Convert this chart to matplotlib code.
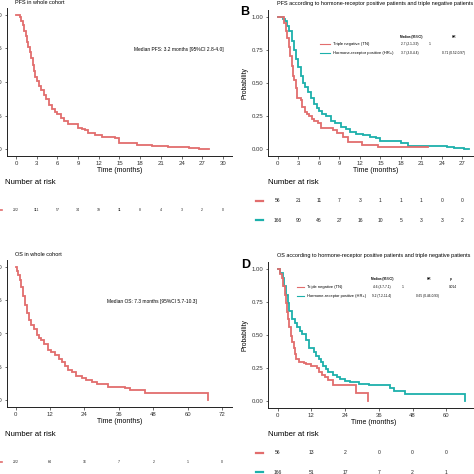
import matplotlib
matplotlib.use('Agg')
import matplotlib.pyplot as plt
from matplotlib.lines import Line2D
from matplotlib.transforms import blended_transform_factory

plt.rcParams['font.family'] = ['Liberation Sans', 'DejaVu Sans']

RED = '#E26D6D'
TEAL = '#1CB0AB'
W = 474.0

# ---- data (KM step points) ----
pfs_all_t = [0, 0.6, 0.8, 1.0, 1.2, 1.4, 1.6, 1.8, 2.0, 2.2, 2.4, 2.6, 2.8, 3.0, 3.3,
             3.6, 4.0, 4.4, 4.8, 5.2, 5.6, 6.0, 6.5, 7.0, 7.5, 8.0, 9.0, 9.5, 10.0,
             10.5, 11.5, 12.5, 14.3, 15.0, 17.5, 19.7, 22.0, 25.0, 26.5, 28.0]
pfs_all_s = [1.0, 0.98, 0.95, 0.92, 0.88, 0.84, 0.80, 0.76, 0.72, 0.68, 0.63, 0.58, 0.54,
             0.51, 0.47, 0.44, 0.40, 0.37, 0.33, 0.30, 0.28, 0.26, 0.235, 0.21, 0.19,
             0.185, 0.16, 0.15, 0.14, 0.12, 0.105, 0.093, 0.085, 0.05, 0.035, 0.022,
             0.017, 0.01, 0.004, 0.0]

pfs_tn_t = [0, 0.9, 1.2, 1.4, 1.6, 1.8, 2.0, 2.2, 2.4, 2.6, 2.8, 3.4, 3.6, 3.9, 4.3,
            4.6, 5.0, 5.3, 5.8, 6.3, 8.1, 8.6, 9.6, 10.3, 12.3, 14.6, 22.0]
pfs_tn_s = [1.0, 0.95, 0.89, 0.84, 0.77, 0.70, 0.63, 0.55, 0.52, 0.46, 0.39, 0.375, 0.32,
            0.28, 0.27, 0.25, 0.23, 0.21, 0.20, 0.16, 0.145, 0.125, 0.09, 0.055, 0.036,
            0.018, 0.018]

pfs_hr_t = [0, 0.8, 1.0, 1.3, 1.7, 2.0, 2.4, 2.7, 3.0, 3.4, 3.7, 4.0, 4.4, 4.8, 5.3, 5.7,
            6.0, 6.5, 7.0, 7.7, 8.3, 9.2, 10.0, 10.6, 11.5, 12.5, 13.5, 14.4, 15.0, 18.0,
            19.0, 24.7, 25.7, 27.2, 28.0]
pfs_hr_s = [1.0, 0.98, 0.965, 0.93, 0.89, 0.82, 0.75, 0.68, 0.62, 0.55, 0.50, 0.47, 0.43,
            0.39, 0.34, 0.31, 0.29, 0.27, 0.25, 0.21, 0.20, 0.17, 0.15, 0.13, 0.115, 0.105,
            0.095, 0.083, 0.06, 0.045, 0.027, 0.018, 0.009, 0.0, 0.0]

os_all_t = [0, 0.5, 1, 1.5, 2, 2.7, 3.3, 3.8, 4.5, 5.5, 6.3, 7.3, 8.2, 9.0, 10.0, 11.3,
            12.5, 13.7, 15.0, 16.0, 17.2, 18.3, 19.5, 21.2, 23.0, 24.7, 26.5, 28.2, 32.2,
            38.0, 39.8, 45.0, 67.0]
os_all_s = [1.0, 0.97, 0.94, 0.90, 0.85, 0.78, 0.71, 0.65, 0.60, 0.56, 0.53, 0.49, 0.47,
            0.45, 0.42, 0.38, 0.36, 0.34, 0.31, 0.29, 0.26, 0.23, 0.21, 0.185, 0.17, 0.155,
            0.14, 0.12, 0.097, 0.09, 0.08, 0.055, 0.0]

os_tn_t = [0, 1.0, 1.5, 2.0, 2.5, 3.0, 3.4, 3.8, 4.2, 4.7, 5.2, 5.9, 6.3, 6.7, 7.7, 9.4,
           10.0, 12.0, 14.0, 14.8, 15.7, 16.8, 18.0, 19.8, 27.9, 32.3]
os_tn_s = [1.0, 0.96, 0.93, 0.87, 0.80, 0.74, 0.675, 0.62, 0.56, 0.49, 0.45, 0.40, 0.36,
           0.32, 0.30, 0.29, 0.285, 0.27, 0.25, 0.22, 0.20, 0.185, 0.16, 0.125, 0.06, 0.0]

os_hr_t = [0, 1.0, 1.8, 2.4, 3.0, 3.6, 4.2, 5.3, 6.2, 7.0, 8.0, 8.8, 10.0, 11.1, 12.9, 13.8,
           14.6, 15.5, 16.3, 17.2, 18.1, 19.8, 21.0, 22.1, 24.0, 25.6, 29.0, 32.6, 38.0,
           40.0, 41.4, 45.4, 66.6]
os_hr_s = [1.0, 0.97, 0.93, 0.87, 0.80, 0.74, 0.68, 0.62, 0.59, 0.56, 0.53, 0.51, 0.46, 0.40,
           0.37, 0.34, 0.32, 0.295, 0.27, 0.245, 0.22, 0.197, 0.18, 0.17, 0.155, 0.145,
           0.133, 0.125, 0.12, 0.10, 0.078, 0.058, 0.0]

# number at risk
pfs_ticks = list(range(0, 31, 3))
pfs_all_risk = [222, 111, 57, 34, 19, 11, 8, 4, 3, 2, 0]
pfs_tn_risk = [56, 21, 11, 7, 3, 1, 1, 1, 0, 0]
pfs_hr_risk = [166, 90, 46, 27, 16, 10, 5, 3, 3, 2]
os_ticks = list(range(0, 73, 12))
os_all_risk = [222, 64, 16, 7, 2, 1, 0]
os_tn_risk = [56, 13, 2, 0, 0, 0]
os_hr_risk = [166, 51, 17, 7, 2, 1]

fig = plt.figure(figsize=(4.74, 4.74), dpi=100)


def fx(x):
    return x / W


def fy(y):
    return 1 - y / W


def make_ax(left, top, right, bottom, xlim, ticks, prob_label):
    ax = fig.add_axes([fx(left), fy(bottom), (right - left) / W, (bottom - top) / W])
    ax.set_xlim(*xlim)
    ax.set_ylim(-0.05, 1.05)
    ax.set_xticks(ticks)
    ax.set_yticks([0, 0.25, 0.5, 0.75, 1.0])
    ax.set_yticklabels(['0.00', '0.25', '0.50', '0.75', '1.00'])
    for s in ['top', 'right']:
        ax.spines[s].set_visible(False)
    for s in ['left', 'bottom']:
        ax.spines[s].set_linewidth(0.7)
        ax.spines[s].set_color('#222222')
    ax.tick_params(labelsize=4.3, length=1.8, width=0.5, pad=1.5, colors='#333333')
    ax.set_xlabel('Time (months)', fontsize=5.0, labelpad=1)
    if prob_label:
        ax.set_ylabel('Probability', fontsize=4.9, labelpad=2)
    ax.patch.set_alpha(0)
    return ax


def step(ax, t, s, color):
    ax.plot(t, s, drawstyle='steps-post', color=color, lw=1.3, solid_joinstyle='miter')


def risk_row(ax, ticks, vals, ypx, size):
    tr = blended_transform_factory(ax.transData, fig.transFigure)
    for t, v in zip(ticks, vals):
        fig.text(t, fy(ypx), str(v), transform=tr, ha='center', va='center',
                 fontsize=size, color='#222222')


def ftext(x, y, s, **kw):
    fig.text(fx(x), fy(y), s, **kw)


def fline(x0, x1, y, color, lw):
    fig.add_artist(Line2D([fx(x0), fx(x1)], [fy(y), fy(y)], color=color, lw=lw,
                          transform=fig.transFigure))


# ---- A: PFS whole cohort ----
axA = make_ax(7, 8, 232, 156, (-1.3, 31.3), pfs_ticks, False)
step(axA, pfs_all_t, pfs_all_s, RED)
ftext(15, 3, 'PFS in whole cohort', fontsize=4.0, va='center')
ftext(134, 49, 'Median PFS: 3.2 months [95%CI 2.8-4.0]', fontsize=3.5, va='center')
ftext(5, 183, 'Number at risk', fontsize=5.6, va='center')
fline(-4, 2, 210, RED, 1.2)
risk_row(axA, pfs_ticks, pfs_all_risk, 210, 2.5)

# ---- B: PFS by subtype ----
axB = make_ax(268, 10, 483, 156, (-1.44, 29.4), pfs_ticks, True)
step(axB, pfs_hr_t, pfs_hr_s, TEAL)
step(axB, pfs_tn_t, pfs_tn_s, RED)
ftext(240, 12, 'B', fontsize=9, fontweight='bold', va='center')
ftext(277, 3.5, 'PFS according to hormone-receptor positive patients and triple negative patients',
      fontsize=4.0, va='center')
fline(320, 330, 44.3, RED, 0.8)
fline(320, 330, 52.7, TEAL, 0.8)
ftext(333, 44.3, 'Triple negative (TN)', fontsize=3.0, va='center')
ftext(333, 52.7, 'Hormone-receptor positive (HR+)', fontsize=3.0, va='center')
ftext(411, 36.7, 'Median (95%CI)', fontsize=2.2, fontweight='bold', ha='center', va='center')
ftext(454, 36.7, 'HR', fontsize=2.2, fontweight='bold', ha='center', va='center')
ftext(410, 44.3, '2.7 (2.1-3.9)', fontsize=2.3, ha='center', va='center')
ftext(430, 44.3, '1', fontsize=2.3, ha='center', va='center')
ftext(410, 52.7, '3.7 (3.0-4.4)', fontsize=2.3, ha='center', va='center')
ftext(453, 52.7, '0.71 (0.52-0.97)', fontsize=2.3, ha='center', va='center')
ftext(268, 183, 'Number at risk', fontsize=5.6, va='center')
fline(256, 263, 201, RED, 1.6)
fline(256, 263, 220, TEAL, 1.6)
risk_row(axB, pfs_ticks, pfs_tn_risk, 201, 3.6)
risk_row(axB, pfs_ticks, pfs_hr_risk, 220, 3.6)

# ---- C: OS whole cohort ----
axC = make_ax(7, 260, 232, 407, (-3.0, 75.4), os_ticks, False)
step(axC, os_all_t, os_all_s, RED)
ftext(15, 254, 'OS in whole cohort', fontsize=4.0, va='center')
ftext(107, 301, 'Median OS: 7.3 months [95%CI 5.7-10.3]', fontsize=3.5, va='center')
ftext(5, 435, 'Number at risk', fontsize=5.6, va='center')
fline(-4, 2, 462, RED, 1.2)
risk_row(axC, os_ticks, os_all_risk, 462, 2.5)

# ---- D: OS by subtype ----
axD = make_ax(268, 262, 480, 408, (-3.4, 70.0), os_ticks, True)
step(axD, os_hr_t, os_hr_s, TEAL)
step(axD, os_tn_t, os_tn_s, RED)
ftext(241, 265, 'D', fontsize=9, fontweight='bold', va='center')
ftext(277, 255, 'OS according to hormone-receptor positive patients and triple negative patients',
      fontsize=4.0, va='center')
fline(297, 304, 287, RED, 0.8)
fline(297, 304, 296.3, TEAL, 0.8)
ftext(307, 287, 'Triple negative (TN)', fontsize=2.9, va='center')
ftext(307, 296.3, 'Hormone-receptor positive (HR+)', fontsize=2.9, va='center')
ftext(382, 278.7, 'Median (95%CI)', fontsize=2.2, fontweight='bold', ha='center', va='center')
ftext(429, 278.7, 'HR', fontsize=2.2, fontweight='bold', ha='center', va='center')
ftext(451, 278.7, 'p', fontsize=2.2, fontweight='bold', ha='center', va='center')
ftext(382, 287, '4.6 (3.7-7.1)', fontsize=2.3, ha='center', va='center')
ftext(403, 287, '1', fontsize=2.3, ha='center', va='center')
ftext(453, 287, '0.014', fontsize=2.3, ha='center', va='center')
ftext(382, 296.3, '9.2 (7.2-11.4)', fontsize=2.3, ha='center', va='center')
ftext(427, 296.3, '0.65 (0.46-0.93)', fontsize=2.3, ha='center', va='center')
ftext(268, 435, 'Number at risk', fontsize=5.6, va='center')
fline(256, 263, 453, RED, 1.6)
fline(256, 263, 472, TEAL, 1.6)
risk_row(axD, os_ticks, os_tn_risk, 453, 3.6)
risk_row(axD, os_ticks, os_hr_risk, 472, 3.6)

fig.savefig('out.png', dpi=100, facecolor='white')
